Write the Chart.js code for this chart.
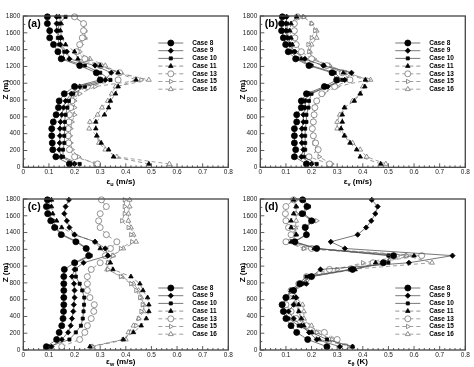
<!DOCTYPE html>
<html><head><meta charset="utf-8">
<script src="https://cdn.jsdelivr.net/npm/chart.js@4/dist/chart.umd.min.js"></script>
<style>
html,body{margin:0;padding:0;background:#fff;width:474px;height:367px;overflow:hidden}
canvas{position:absolute}
</style></head><body>
<canvas id="ca" width="237" height="190" style="left:0;top:0"></canvas>
<canvas id="cb" width="237" height="190" style="left:237px;top:0"></canvas>
<canvas id="cc" width="237" height="182" style="left:0;top:185px"></canvas>
<canvas id="cd" width="237" height="182" style="left:237px;top:185px"></canvas>
<script>
// Heights (m) of the profile levels
const LEVELS = [40,125,210,290,375,460,540,625,710,790,875,960,1040,1125,1210,1290,1375,1460,1540,1625,1710,1790];
const CASES = ['Case 8','Case 9','Case 10','Case 11','Case 13','Case 15','Case 16'];
const X_TICK_VALUES = [0,0.1,0.2,0.3,0.4,0.5,0.6,0.7,0.8];
const Y_TICK_VALUES = [0,200,400,600,800,1000,1200,1400,1600,1800];

// (a) eps_u
const A8  = [0.18,0.127,0.115,0.113,0.111,0.111,0.117,0.128,0.137,0.14,0.16,0.2,0.30,0.285,0.22,0.148,0.135,0.118,0.103,0.103,0.094,0.094];
const A9  = [0.2,0.148,0.14,0.142,0.143,0.143,0.145,0.15,0.157,0.165,0.187,0.22,0.32,0.343,0.28,0.18,0.17,0.145,0.145,0.13,0.13,0.13];
const A10 = [0.22,0.155,0.155,0.16,0.16,0.16,0.162,0.165,0.172,0.178,0.195,0.24,0.34,0.30,0.24,0.155,0.16,0.14,0.135,0.135,0.14,0.165];
const A11 = [0.49,0.352,0.333,0.304,0.287,0.283,0.283,0.317,0.333,0.34,0.36,0.37,0.44,0.37,0.3,0.213,0.2,0.165,0.15,0.145,0.148,0.14];
const A13 = [0.29,0.2,0.18,0.177,0.175,0.175,0.178,0.18,0.185,0.19,0.2,0.25,0.37,0.376,0.3,0.24,0.207,0.22,0.23,0.235,0.235,0.2];
const A15 = [0.28,0.215,0.19,0.185,0.183,0.185,0.19,0.2,0.2,0.2,0.22,0.28,0.46,0.38,0.3,0.25,0.22,0.225,0.24,0.24,0.235,0.2];
const A16 = [0.57,0.365,0.32,0.295,0.287,0.257,0.26,0.29,0.307,0.33,0.345,0.36,0.49,0.37,0.32,0.26,0.21,0.22,0.24,0.24,0.237,0.2];
// (b) eps_v
const B8  = [0.18,0.133,0.138,0.133,0.133,0.133,0.142,0.142,0.16,0.16,0.18,0.25,0.298,0.28,0.19,0.138,0.109,0.099,0.09,0.083,0.083,0.086];
const B9  = [0.2,0.16,0.168,0.162,0.162,0.162,0.168,0.168,0.175,0.175,0.19,0.263,0.33,0.356,0.246,0.174,0.135,0.115,0.105,0.1,0.1,0.103];
const B10 = [0.22,0.17,0.175,0.175,0.175,0.175,0.18,0.18,0.188,0.19,0.2,0.26,0.32,0.29,0.2,0.145,0.12,0.12,0.11,0.105,0.105,0.1];
const B11 = [0.47,0.39,0.376,0.35,0.328,0.315,0.32,0.32,0.328,0.367,0.39,0.408,0.41,0.324,0.25,0.16,0.13,0.125,0.12,0.115,0.12,0.142];
const B13 = [0.27,0.19,0.226,0.216,0.207,0.203,0.207,0.21,0.213,0.22,0.24,0.29,0.35,0.32,0.26,0.2,0.16,0.14,0.135,0.133,0.133,0.145];
const B15 = [0.278,0.23,0.22,0.21,0.205,0.2,0.205,0.208,0.21,0.218,0.245,0.3,0.42,0.34,0.27,0.21,0.19,0.187,0.2,0.213,0.2,0.17];
const B16 = [0.49,0.415,0.39,0.36,0.33,0.3,0.3,0.31,0.33,0.36,0.39,0.4,0.43,0.33,0.27,0.2,0.194,0.2,0.22,0.22,0.2,0.168];
// (c) eps_w
const C8  = [0.09,0.13,0.14,0.15,0.155,0.157,0.158,0.158,0.158,0.158,0.158,0.16,0.2,0.255,0.245,0.205,0.148,0.122,0.107,0.095,0.09,0.094];
const C9  = [0.11,0.15,0.175,0.185,0.19,0.195,0.197,0.2,0.2,0.198,0.19,0.2,0.235,0.33,0.32,0.28,0.2,0.18,0.17,0.16,0.165,0.178];
const C10 = [0.1,0.18,0.205,0.225,0.232,0.235,0.237,0.238,0.23,0.22,0.205,0.205,0.205,0.263,0.25,0.21,0.152,0.128,0.115,0.1,0.1,0.1];
const C11 = [0.26,0.39,0.43,0.46,0.48,0.49,0.49,0.485,0.467,0.455,0.42,0.35,0.34,0.33,0.3,0.28,0.2,0.15,0.13,0.115,0.11,0.11];
const C13 = [0.15,0.22,0.24,0.25,0.265,0.275,0.277,0.26,0.25,0.25,0.25,0.265,0.3,0.32,0.34,0.365,0.324,0.3,0.294,0.3,0.324,0.305];
const C15 = [0.27,0.39,0.42,0.44,0.45,0.46,0.465,0.455,0.44,0.42,0.38,0.33,0.33,0.35,0.38,0.424,0.42,0.41,0.385,0.395,0.395,0.395];
const C16 = [0.27,0.4,0.41,0.43,0.45,0.47,0.47,0.46,0.45,0.43,0.385,0.327,0.33,0.35,0.39,0.44,0.43,0.42,0.41,0.41,0.415,0.415];
// (d) eps_theta
const D8  = [0.26,0.185,0.142,0.12,0.1,0.09,0.085,0.1,0.13,0.155,0.2,0.36,0.48,0.52,0.22,0.135,0.18,0.175,0.2,0.163,0.182,0.165];
const D9  = [0.31,0.22,0.19,0.16,0.13,0.11,0.13,0.14,0.13,0.18,0.2,0.235,0.58,0.75,0.33,0.275,0.38,0.413,0.433,0.449,0.458,0.435];
const D10 = [0.36,0.26,0.2,0.15,0.11,0.095,0.09,0.1,0.12,0.15,0.18,0.35,0.5,0.5,0.22,0.13,0.18,0.18,0.205,0.17,0.19,0.17];
const D11 = [0.36,0.23,0.2,0.17,0.16,0.15,0.15,0.13,0.12,0.17,0.19,0.37,0.45,0.6,0.21,0.12,0.14,0.12,0.12,0.13,0.14,0.13];
const D13 = [0.33,0.3,0.25,0.18,0.14,0.12,0.1,0.1,0.12,0.15,0.18,0.27,0.44,0.63,0.2,0.1,0.12,0.11,0.1,0.098,0.1,0.13];
const D15 = [0.34,0.28,0.22,0.18,0.16,0.15,0.14,0.12,0.13,0.16,0.19,0.3,0.4,0.57,0.17,0.1,0.14,0.13,0.22,0.14,0.14,0.14];
const D16 = [0.34,0.27,0.22,0.2,0.17,0.17,0.165,0.14,0.13,0.16,0.2,0.35,0.67,0.57,0.17,0.1,0.14,0.137,0.14,0.14,0.14,0.13];

const FONT = '"Liberation Sans", Arial, sans-serif';
const LOOK = [
  {ps:'circle',   r:3.0, rot:0,  bg:'#000', bd:'#000', line:'#555', dash:[]},
  {ps:'rectRot',  r:2.6, rot:0,  bg:'#000', bd:'#000', line:'#555', dash:[]},
  {ps:'rect',     r:2.2, rot:0,  bg:'#000', bd:'#000', line:'#555', dash:[]},
  {ps:'triangle', r:2.6, rot:0,  bg:'#000', bd:'#000', line:'#777', dash:[4,3]},
  {ps:'circle',   r:3.0, rot:0,  bg:'#fff', bd:'#777', line:'#888', dash:[4,3]},
  {ps:'triangle', r:2.6, rot:90, bg:'#fff', bd:'#777', line:'#888', dash:[4,3]},
  {ps:'triangle', r:2.8, rot:0,  bg:'#fff', bd:'#777', line:'#888', dash:[4,3]}
];

const PANELS = [
  {id:'ca', tag:'(a)', sub:'u', unit:'(m/s)', series:[A8,A9,A10,A11,A13,A15,A16], top:16, axisH:22.7, titleOff:14.7, legY:27},
  {id:'cb', tag:'(b)', sub:'v', unit:'(m/s)', series:[B8,B9,B10,B11,B13,B15,B16], top:16, axisH:22.7, titleOff:14.7, legY:27},
  {id:'cc', tag:'(c)', sub:'w', unit:'(m/s)', series:[C8,C9,C10,C11,C13,C15,C16], top:14, axisH:17, titleOff:12, legY:89},
  {id:'cd', tag:'(d)', sub:'\u03b8', unit:'(K)', series:[D8,D9,D10,D11,D13,D15,D16], top:14, axisH:17, titleOff:12, legY:89}
];

function drawMarker(ctx, lk, x, y){
  const opts = {pointStyle:lk.ps, radius:lk.r, rotation:lk.rot, borderWidth:0.8};
  ctx.save();
  ctx.fillStyle = lk.bg; ctx.strokeStyle = lk.bd; ctx.lineWidth = 0.8; ctx.setLineDash([]);
  if (Chart.helpers && Chart.helpers.drawPoint) {
    Chart.helpers.drawPoint(ctx, opts, x, y);
  } else {
    ctx.beginPath(); ctx.arc(x, y, lk.r, 0, Math.PI*2); ctx.fill(); ctx.stroke();
  }
  ctx.restore();
}

const decorPlugin = {
  id:'decor',
  afterDraw(chart, args, o){
    const ctx = chart.ctx, ca = chart.chartArea, xs = chart.scales.x, ys = chart.scales.y;
    const p = o.panel;
    ctx.save();
    // inward ticks
    ctx.strokeStyle = '#333'; ctx.lineWidth = 0.8; ctx.setLineDash([]);
    ctx.beginPath();
    for (let v = 0; v <= 0.8001; v += 0.02) {
      const px = xs.getPixelForValue(v);
      const major = Math.abs(Math.round(v*10) - v*10) < 1e-6;
      ctx.moveTo(px, ca.bottom); ctx.lineTo(px, ca.bottom - (major ? 4 : 2));
    }
    for (let v = 0; v <= 1800; v += 100) {
      const py = ys.getPixelForValue(v);
      const major = v % 200 === 0;
      ctx.moveTo(ca.left, py); ctx.lineTo(ca.left + (major ? 4 : 2), py);
    }
    ctx.stroke();
    // frame
    ctx.strokeStyle = '#444'; ctx.lineWidth = 1.3;
    ctx.strokeRect(ca.left, ca.top, ca.right - ca.left, ca.bottom - ca.top);
    // panel tag
    ctx.fillStyle = '#000'; ctx.textBaseline = 'middle'; ctx.textAlign = 'left';
    ctx.font = 'bold 10.5px ' + FONT;
    ctx.fillText(p.tag, ca.left + 4.5, ca.top + 8.5);
    // y title
    ctx.save();
    ctx.translate(6, (ca.top + ca.bottom) / 2 - 2);
    ctx.rotate(-Math.PI/2);
    ctx.textAlign = 'center';
    ctx.font = 'bold 8px ' + FONT;
    ctx.fillText('Z (m)', 0, 0);
    ctx.restore();
    // x title with subscript
    const f1 = 'bold 8px ' + FONT, f2 = 'bold 5.5px ' + FONT;
    ctx.font = f1; const w1 = ctx.measureText('\u03b5').width;
    ctx.font = f2; const w2 = ctx.measureText(p.sub).width;
    ctx.font = f1; const w3 = ctx.measureText(' ' + p.unit).width;
    let x0 = (ca.left + ca.right)/2 - (w1+w2+w3)/2 - 5;
    const yT = ca.bottom + p.titleOff;
    ctx.textAlign = 'left';
    ctx.font = f1; ctx.fillText('\u03b5', x0, yT);
    ctx.font = f2; ctx.fillText(p.sub, x0 + w1, yT + 2);
    ctx.font = f1; ctx.fillText(' ' + p.unit, x0 + w1 + w2, yT);
    // legend
    const lx = ca.left + 135, step = 7.7;
    chart.data.datasets.forEach((ds, i) => {
      const lk = LOOK[i];
      const y = ca.top + p.legY + i*step;
      ctx.strokeStyle = lk.line; ctx.lineWidth = 0.8; ctx.setLineDash(lk.dash);
      ctx.beginPath(); ctx.moveTo(lx, y); ctx.lineTo(lx + 25, y); ctx.stroke();
      ctx.setLineDash([]);
      drawMarker(ctx, lk, lx + 12.5, y);
      ctx.fillStyle = '#000'; ctx.font = 'bold 6.5px ' + FONT; ctx.textAlign = 'left'; ctx.textBaseline = 'middle';
      ctx.fillText(ds.label, lx + 34, y);
    });
    ctx.restore();
  }
};

PANELS.forEach(p => {
  const datasets = p.series.map((vals, i) => {
    const lk = LOOK[i];
    return {
      label: CASES[i],
      data: LEVELS.map((z, k) => ({x: vals[k], y: z})),
      showLine: true, tension: 0, fill: false,
      borderColor: lk.line, borderWidth: 0.8, borderDash: lk.dash,
      pointStyle: lk.ps, pointRadius: lk.r, pointRotation: lk.rot,
      pointBackgroundColor: lk.bg, pointBorderColor: lk.bd, pointBorderWidth: 0.8,
      pointHoverRadius: lk.r, clip: false
    };
  });
  const cv = document.getElementById(p.id);
  new Chart(cv, {
    type: 'scatter',
    data: {datasets},
    plugins: [decorPlugin],
    options: {
      responsive: false, animation: false, devicePixelRatio: 1,
      layout: {padding: {left: 0, right: 8.7, top: p.top, bottom: 0}},
      plugins: {legend: {display: false}, tooltip: {enabled: false}, decor: {panel: p}},
      scales: {
        x: {
          type: 'linear', min: 0, max: 0.8,
          afterBuildTicks: s => { s.ticks = X_TICK_VALUES.map(v => ({value: v})); },
          ticks: {font: {size: 6.5, family: FONT}, color: '#222', padding: 1.5, maxRotation: 0, autoSkip: false,
                  callback: v => String(+(+v).toFixed(1))},
          grid: {display: false, drawTicks: false}, border: {display: false},
          afterFit: s => { s.height = p.axisH; }
        },
        y: {
          type: 'linear', min: 0, max: 1800,
          afterBuildTicks: s => { s.ticks = Y_TICK_VALUES.map(v => ({value: v})); },
          ticks: {font: {size: 6.5, family: FONT}, color: '#222', padding: 3, autoSkip: false,
                  callback: v => String(Math.round(v))},
          grid: {display: false, drawTicks: false}, border: {display: false},
          afterFit: s => { s.width = 23.3; }
        }
      }
    }
  });
});
</script>
</body></html>
